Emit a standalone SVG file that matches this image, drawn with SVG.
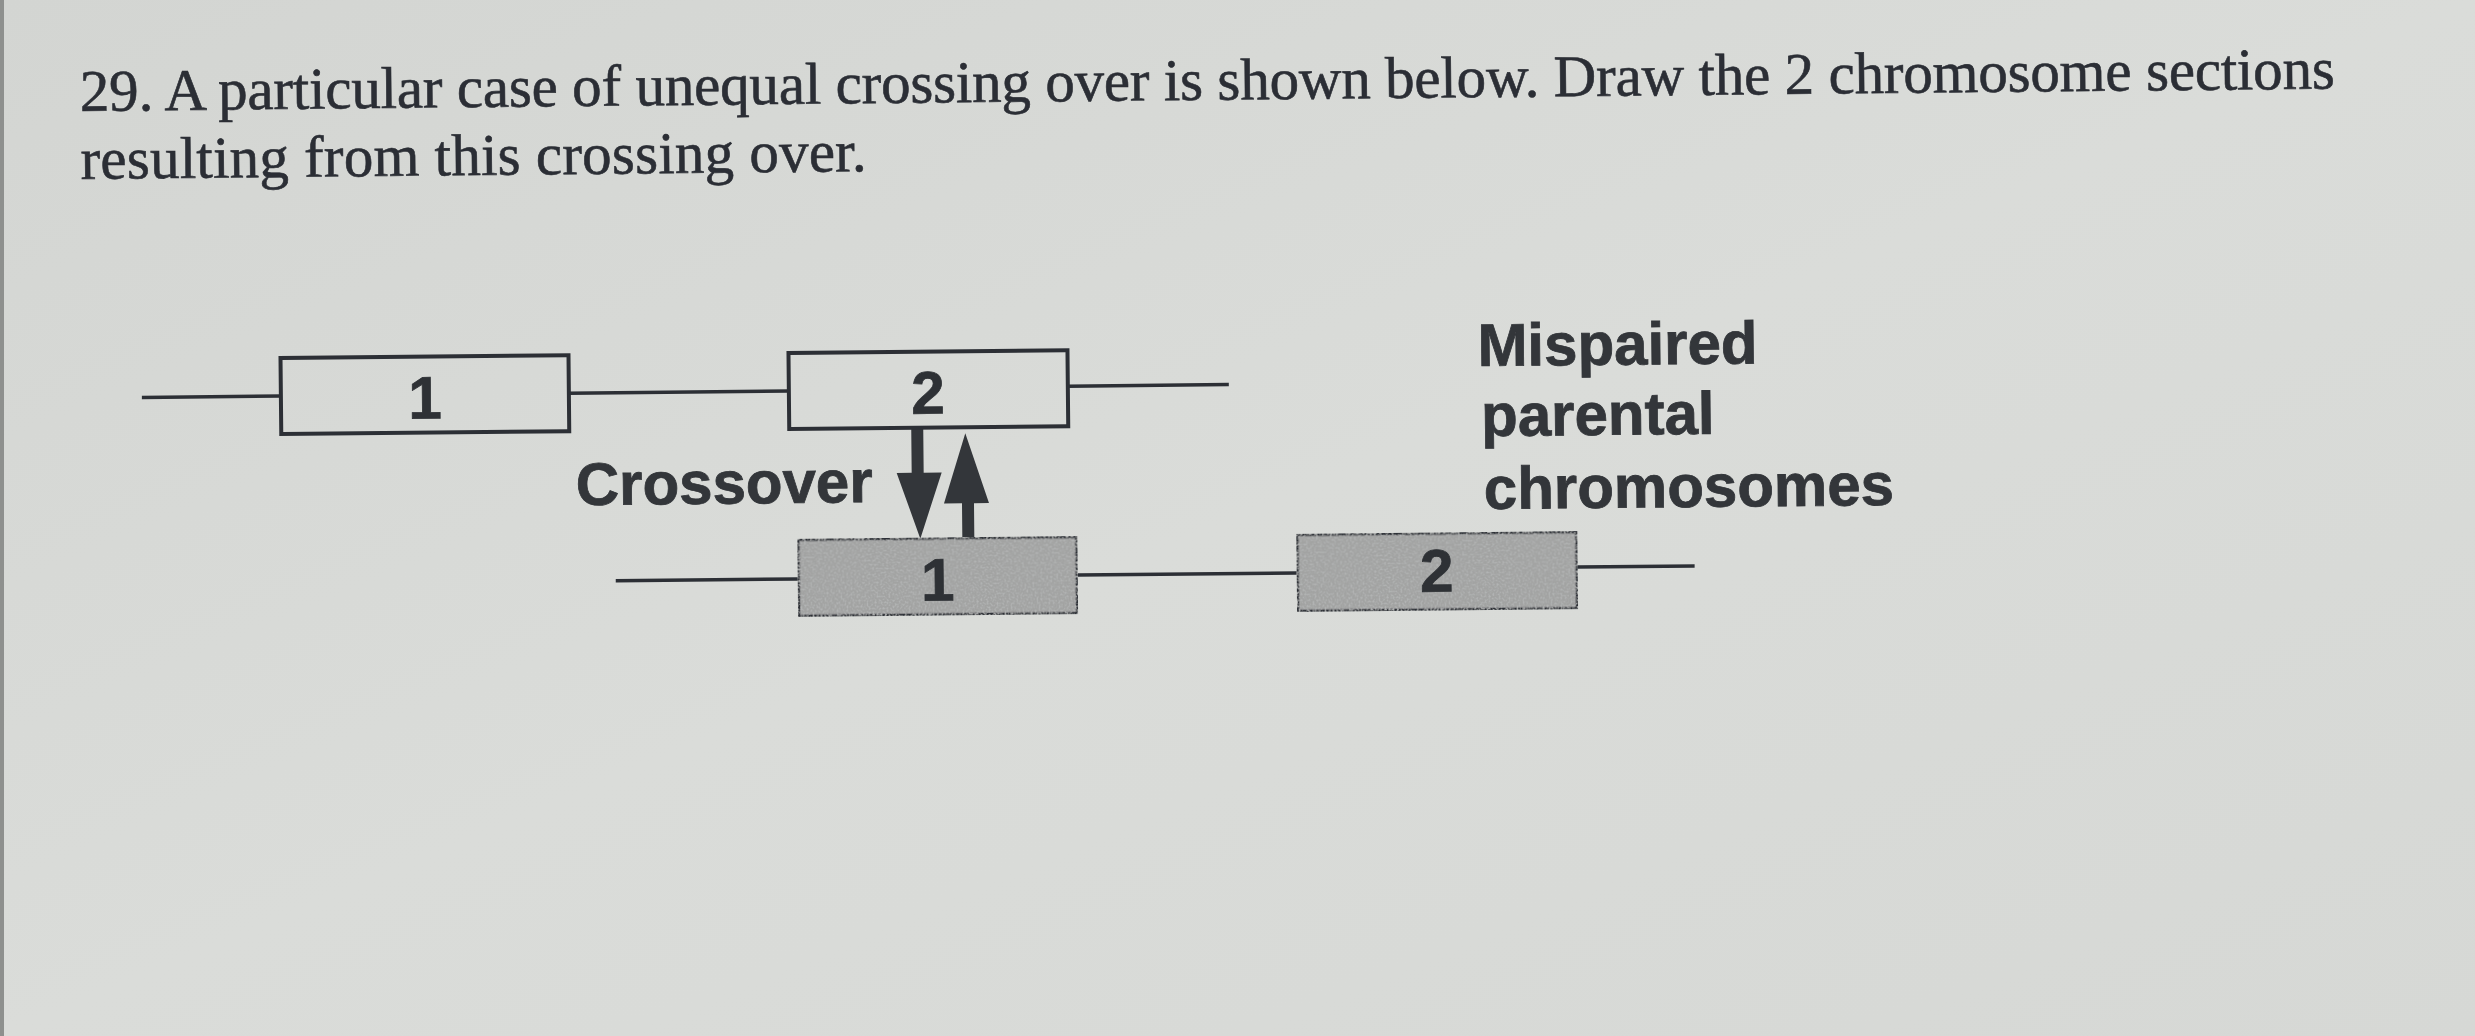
<svg xmlns="http://www.w3.org/2000/svg" width="2475" height="1036" viewBox="0 0 2475 1036">
  <defs>
    <linearGradient id="bg" x1="0" y1="0" x2="1" y2="1">
      <stop offset="0" stop-color="#d3d5d2"/>
      <stop offset="0.5" stop-color="#dadcd9"/>
      <stop offset="1" stop-color="#d6d8d5"/>
    </linearGradient>
    <filter id="speckle" x="0" y="0" width="100%" height="100%">
      <feTurbulence type="fractalNoise" baseFrequency="0.5" numOctaves="2" seed="3" result="n"/>
      <feColorMatrix in="n" type="matrix" values="0 0 0 0 0.45  0 0 0 0 0.46  0 0 0 0 0.46  0 0 0 -3 1.7" result="g"/>
      <feComposite in="g" in2="SourceGraphic" operator="in" result="t"/>
      <feMerge><feMergeNode in="SourceGraphic"/><feMergeNode in="t"/></feMerge>
    </filter>
    <style>
      .title { font-family: "Liberation Serif", "Times New Roman", serif; font-size: 59px; fill: #2b2e35; stroke: #2b2e35; stroke-width: 0.6px; }
      .lbl { font-family: "Liberation Sans", Arial, sans-serif; font-weight: bold; font-size: 60px; fill: #33363a; stroke: #33363a; stroke-width: 0.8px; }
      .num { font-family: "Liberation Sans", Arial, sans-serif; font-weight: bold; font-size: 60px; fill: #2e3135; stroke: #2e3135; stroke-width: 0.8px; text-anchor: middle; }
      .box { fill: none; stroke: #2c2f35; stroke-width: 4; }
      .sbox { fill: #a2a3a2; stroke: #2c2f35; stroke-width: 4.5; }
      .wire { stroke: #2c2f35; stroke-width: 3.5; fill: none; }
      .arrow { fill: #33363a; stroke: none; }
    </style>
  </defs>
  <rect x="0" y="0" width="2475" height="1036" fill="url(#bg)"/>
  <rect x="0" y="0" width="4" height="1036" fill="#8e908e"/>
  <g transform="rotate(-0.57 80 107)">
    <g id="title">
      <text class="title" x="80" y="111" textLength="2255" lengthAdjust="spacing">29. A particular case of unequal crossing over is shown below. Draw the 2 chromosome sections</text>
      <text class="title" x="80" y="179" textLength="786" lengthAdjust="spacing">resulting from this crossing over.</text>
    </g>
    <g id="connectors">
      <line class="wire" x1="139" y1="398" x2="278" y2="398"/>
      <line class="wire" x1="566" y1="398" x2="786" y2="398"/>
      <line class="wire" x1="1065" y1="396" x2="1226" y2="396"/>
      <line class="wire" x1="611" y1="586" x2="793" y2="586"/>
      <line class="wire" x1="1073" y1="585" x2="1292" y2="585"/>
      <line class="wire" x1="1573" y1="582" x2="1690" y2="582"/>
      <path class="arrow" d="M908,436 L920,436 L920,481 L938,481 L916,547 L893,481 L908,481 Z"/>
      <path class="arrow" d="M962,442 L985,512 L970,512 L970,546 L958,546 L958,512 L940,512 Z"/>
    </g>
    <g id="node-top-1">
      <rect class="box" x="278" y="360" width="288" height="76"/>
      <text class="num" x="422" y="422">1</text>
    </g>
    <g id="node-top-2">
      <rect class="box" x="786" y="360" width="279" height="76"/>
      <text class="num" x="925" y="422">2</text>
    </g>
    <g id="node-bottom-1">
      <rect class="sbox" x="793" y="546" width="280" height="78" filter="url(#speckle)"/>
      <text class="num" x="933" y="609">1</text>
    </g>
    <g id="node-bottom-2">
      <rect class="sbox" x="1292" y="546" width="281" height="78" filter="url(#speckle)"/>
      <text class="num" x="1432" y="605">2</text>
    </g>
    <g id="label-crossover">
      <text class="lbl" x="572" y="510">Crossover</text>
    </g>
    <g id="label-mispaired">
      <text class="lbl" x="1475" y="380">Mispaired</text>
      <text class="lbl" x="1478" y="450">parental</text>
      <text class="lbl" x="1480" y="523">chromosomes</text>
    </g>
  </g>
</svg>
